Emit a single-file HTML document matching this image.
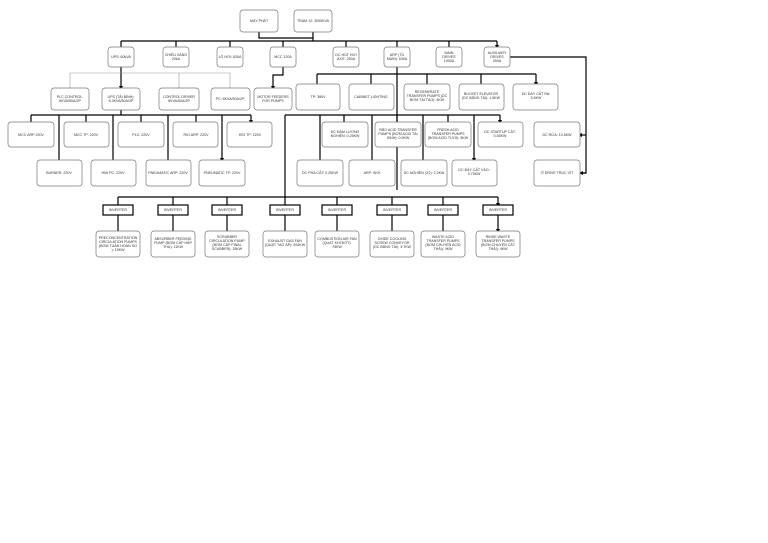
<!DOCTYPE html>
<html><head><meta charset="utf-8"><style>
html,body{margin:0;padding:0;background:#fff;width:768px;height:543px;overflow:hidden}
svg text{font-family:"Liberation Sans",sans-serif;font-size:3.6px;fill:#333;text-anchor:middle}
.b{fill:#fff;stroke:#777;stroke-width:0.7}
.k{stroke:#000;stroke-width:1.2;fill:none}
.g{stroke:#999;stroke-width:0.6;fill:none}
.inv{fill:#fff;stroke:#000;stroke-width:1.2}
</style></head><body>
<svg width="768" height="543" viewBox="0 0 768 543" xmlns="http://www.w3.org/2000/svg">
<defs><marker id="a" markerWidth="4" markerHeight="4" refX="2" refY="2" orient="auto" markerUnits="userSpaceOnUse"><path d="M0,0 L4,2 L0,4z" fill="#000"/></marker></defs>
<!-- lines -->
<g class="k">
<path d="M259,32V38H313V32M313,38V41"/>
<path d="M121,41H497"/>
<path d="M121,41V47M176,41V47M230,41V47M283,41V47M346,41V47M397,41V47M449,41V47M497,41V47" marker-end="url(#a)"/>
<path d="M121,67V73"/>
<path d="M121,73V88" marker-end="url(#a)"/>
<path d="M283,67V75H273V88" marker-end="url(#a)"/>
<path d="M121,110V115H31M121,115H251"/>
<path d="M31,115V122M86,115V122M141,115V122M196,115V122M251,115V122" marker-end="url(#a)"/>
<path d="M59,115V160M113,115V160M168,115V160M222,115V160" marker-end="url(#a)"/>
<path d="M397,67V190"/>
<path d="M317,74H536"/>
<path d="M317,74V84M371,74V84M427,74V84M481,74V84M536,74V84" marker-end="url(#a)"/>
<path d="M285,115H500M285,115V197"/>
<path d="M344,115V122M397,115V122M448,115V122M500,115V122" marker-end="url(#a)"/>
<path d="M320,115V160M372,115V160M423,115V160M474,115V160" marker-end="url(#a)"/>
<path d="M510,57H586V173H580"/>
<path d="M586,135H580" marker-end="url(#a)"/>
<path d="M586,173H581" marker-end="url(#a)"/>
<path d="M118,197H498"/>
<path d="M118,197V205M173,197V205M227,197V205M285,197V205M337,197V205M392,197V205M443,197V205M498,197V205" marker-end="url(#a)"/>
<path d="M118,215V231M173,215V231M227,215V231M285,215V231M337,215V231M392,215V231M443,215V231M498,215V231" marker-end="url(#a)"/>
</g>
<g class="g"><path d="M70,73H230M70,73V88M179,73V88M230,73V88"/></g>
<!-- boxes -->
<g>
<rect class="b" x="240" y="10" width="38" height="22" rx="3"/><text x="259" y="22">MÁY PHÁT</text>
<rect class="b" x="294" y="10" width="38" height="22" rx="3"/><text x="313" y="22">TRẠM 12: 3000KVA</text>

<rect class="b" x="108" y="47" width="26" height="20" rx="3"/><text x="121" y="58">UPS: 60kVA</text>
<rect class="b" x="163" y="47" width="26" height="20" rx="3"/><text x="176" y="56">CHIẾU SÁNG</text><text x="176" y="60">20kA</text>
<rect class="b" x="217" y="47" width="26" height="20" rx="3"/><text x="230" y="58">LÒ HƠI: 630A</text>
<rect class="b" x="270" y="47" width="26" height="20" rx="3"/><text x="283" y="58">MCC 120A</text>
<rect class="b" x="333" y="47" width="26" height="20" rx="3"/><text x="346" y="56">DC HÚT HƠI</text><text x="346" y="60">AXIT: 250A</text>
<rect class="b" x="384" y="47" width="26" height="20" rx="3"/><text x="397" y="56">ARP (TỦ</text><text x="397" y="60">MAIN): 630A</text>
<rect class="b" x="436" y="47" width="26" height="20" rx="3"/><text x="449" y="54">MAIN</text><text x="449" y="58">DRIVES</text><text x="449" y="62">1000A</text>
<rect class="b" x="484" y="47" width="26" height="20" rx="3"/><text x="497" y="54">AUXILIARY</text><text x="497" y="58">DRIVES</text><text x="497" y="62">400A</text>

<rect class="b" x="51" y="88" width="38" height="22" rx="3"/><text x="70" y="98">PLC CONTROL:</text><text x="70" y="102">6KVA/50A/2P</text>
<rect class="b" x="102" y="88" width="38" height="22" rx="3"/><text x="121" y="98">UPS (TẢI BÌNH):</text><text x="121" y="102">6.3KVA/50A/2P</text>
<rect class="b" x="159" y="88" width="40" height="22" rx="3"/><text x="179" y="98">CONTROL DRIVER</text><text x="179" y="102">6KVA/50A/2P</text>
<rect class="b" x="211" y="88" width="39" height="22" rx="3"/><text x="230" y="100">PC: 6KVA/50A/2P</text>
<rect class="b" x="254" y="88" width="38" height="22" rx="3"/><text x="273" y="98">MOTOR FEEDERS</text><text x="273" y="102">FOR PUMPS</text>
<rect class="b" x="296" y="84" width="44" height="26" rx="3"/><text x="318" y="98">TP: 380V</text>
<rect class="b" x="349" y="84" width="45" height="26" rx="3"/><text x="371" y="98">CABINET LIGHTING</text>
<rect class="b" x="404" y="84" width="46" height="26" rx="3"/><text x="427" y="93">REGENERATE</text><text x="427" y="97">TRANSFER PUMPS (DC</text><text x="427" y="101">BƠM TÁI TẠO): 4KW</text>
<rect class="b" x="459" y="84" width="45" height="26" rx="3"/><text x="481" y="95">BUCKET ELEVATOR</text><text x="481" y="99">(DC BĂNG TẢI): 1.5KW</text>
<rect class="b" x="513" y="84" width="45" height="26" rx="3"/><text x="536" y="95">DC ĐẨY CẤT RA:</text><text x="536" y="99">5.5KW</text>

<rect class="b" x="8" y="122" width="46" height="25" rx="3"/><text x="31" y="136">MCC ARP 220V</text>
<rect class="b" x="64" y="122" width="45" height="25" rx="3"/><text x="86" y="136">MCC TP: 220V</text>
<rect class="b" x="118" y="122" width="46" height="25" rx="3"/><text x="141" y="136">PLC: 220V</text>
<rect class="b" x="173" y="122" width="45" height="25" rx="3"/><text x="196" y="136">RIO ARP: 220V</text>
<rect class="b" x="227" y="122" width="45" height="25" rx="3"/><text x="250" y="136">RIO TP: 220V</text>
<rect class="b" x="322" y="122" width="46" height="25" rx="3"/><text x="345" y="133">DC ĐẨM LƯỢNG</text><text x="345" y="137">NGHIỀN: 0.25KW</text>
<rect class="b" x="375" y="122" width="46" height="25" rx="3"/><text x="398" y="131">RBO ACID TRANSFER</text><text x="398" y="135">PUMPS (BƠM ACID TÁI</text><text x="398" y="139">SINH): 0.9KW</text>
<rect class="b" x="425" y="122" width="46" height="25" rx="3"/><text x="448" y="131">FRESH ACID</text><text x="448" y="135">TRANSFER PUMPS</text><text x="448" y="139">(BƠM ACID TƯƠI): 5KW</text>
<rect class="b" x="478" y="122" width="45" height="25" rx="3"/><text x="500" y="133">DC STARTUP CẤT:</text><text x="500" y="137">0.55KW</text>
<rect class="b" x="534" y="122" width="46" height="25" rx="3"/><text x="557" y="136">DC RỬA: 10.5KW</text>

<rect class="b" x="37" y="160" width="45" height="26" rx="3"/><text x="59" y="174">BURNER: 220V</text>
<rect class="b" x="91" y="160" width="45" height="26" rx="3"/><text x="113" y="174">HMI PC: 220V</text>
<rect class="b" x="146" y="160" width="45" height="26" rx="3"/><text x="168" y="174">PNEUMATIC ARP: 220V</text>
<rect class="b" x="199" y="160" width="46" height="26" rx="3"/><text x="222" y="174">PNEUMATIC TP: 220V</text>
<rect class="b" x="297" y="160" width="46" height="26" rx="3"/><text x="320" y="174">DC PHA CẤT: 0.25KW</text>
<rect class="b" x="349" y="160" width="46" height="26" rx="3"/><text x="372" y="174">ARP: SKH</text>
<rect class="b" x="401" y="160" width="46" height="26" rx="3"/><text x="424" y="174">DC NGHIỀN (X2): 2.2KW</text>
<rect class="b" x="452" y="160" width="45" height="26" rx="3"/><text x="474" y="171">DC ĐẨY CẤT VÀO:</text><text x="474" y="175">3.75KW</text>
<rect class="b" x="534" y="160" width="46" height="26" rx="3"/><text x="557" y="174">Ở DRIVE TRỤC VÍT</text>
</g>
<g>
<rect class="inv" x="103" y="205" width="30" height="10"/><text x="118" y="211">INVERTER</text>
<rect class="inv" x="158" y="205" width="30" height="10"/><text x="173" y="211">INVERTER</text>
<rect class="inv" x="212" y="205" width="30" height="10"/><text x="227" y="211">INVERTER</text>
<rect class="inv" x="270" y="205" width="30" height="10"/><text x="285" y="211">INVERTER</text>
<rect class="inv" x="322" y="205" width="30" height="10"/><text x="337" y="211">INVERTER</text>
<rect class="inv" x="377" y="205" width="30" height="10"/><text x="392" y="211">INVERTER</text>
<rect class="inv" x="428" y="205" width="30" height="10"/><text x="443" y="211">INVERTER</text>
<rect class="inv" x="483" y="205" width="30" height="10"/><text x="498" y="211">INVERTER</text>
</g>
<g>
<rect class="b" x="96" y="231" width="44" height="26" rx="3"/><text x="118" y="239">PRECONCENTRATION</text><text x="118" y="243">CIRCULATION PUMPS</text><text x="118" y="247">(BƠM TUẦN HOÀN SƠ</text><text x="118" y="251">): 15KW</text>
<rect class="b" x="151" y="231" width="44" height="26" rx="3"/><text x="173" y="240">ABSORBER FEEDING</text><text x="173" y="244">PUMP (BƠM CẤP HẤP</text><text x="173" y="248">THU): 11KW</text>
<rect class="b" x="205" y="231" width="44" height="26" rx="3"/><text x="227" y="238">SCRUBBER</text><text x="227" y="242">CIRCULATION PUMP</text><text x="227" y="246">(BƠM CẤP FINAL</text><text x="227" y="250">SCUBBER): 15KW</text>
<rect class="b" x="263" y="231" width="44" height="26" rx="3"/><text x="285" y="242">EXHAUST GAS FAN</text><text x="285" y="246">(QUẠT TẠO ÁP): 200KW</text>
<rect class="b" x="315" y="231" width="44" height="26" rx="3"/><text x="337" y="240">COMBUSTION AIR FAN</text><text x="337" y="244">(QUẠT KHÍ ĐỐT):</text><text x="337" y="248">75KW</text>
<rect class="b" x="370" y="231" width="44" height="26" rx="3"/><text x="392" y="240">OXIDE COOLING</text><text x="392" y="244">SCREW CONVEYOR</text><text x="392" y="248">(DC BĂNG TẢI): 3.7KW</text>
<rect class="b" x="421" y="231" width="44" height="26" rx="3"/><text x="443" y="238">WASTE ACID</text><text x="443" y="242">TRANSFER PUMPS</text><text x="443" y="246">(BƠM CHUYỂN ACID</text><text x="443" y="250">THẢI): 4KW</text>
<rect class="b" x="476" y="231" width="44" height="26" rx="3"/><text x="498" y="238">RINSE WASTE</text><text x="498" y="242">TRANSFER PUMPS</text><text x="498" y="246">(BƠM CHUYỂN CẤT</text><text x="498" y="250">THẢI): 4KW</text>
</g>
</svg>
</body></html>
